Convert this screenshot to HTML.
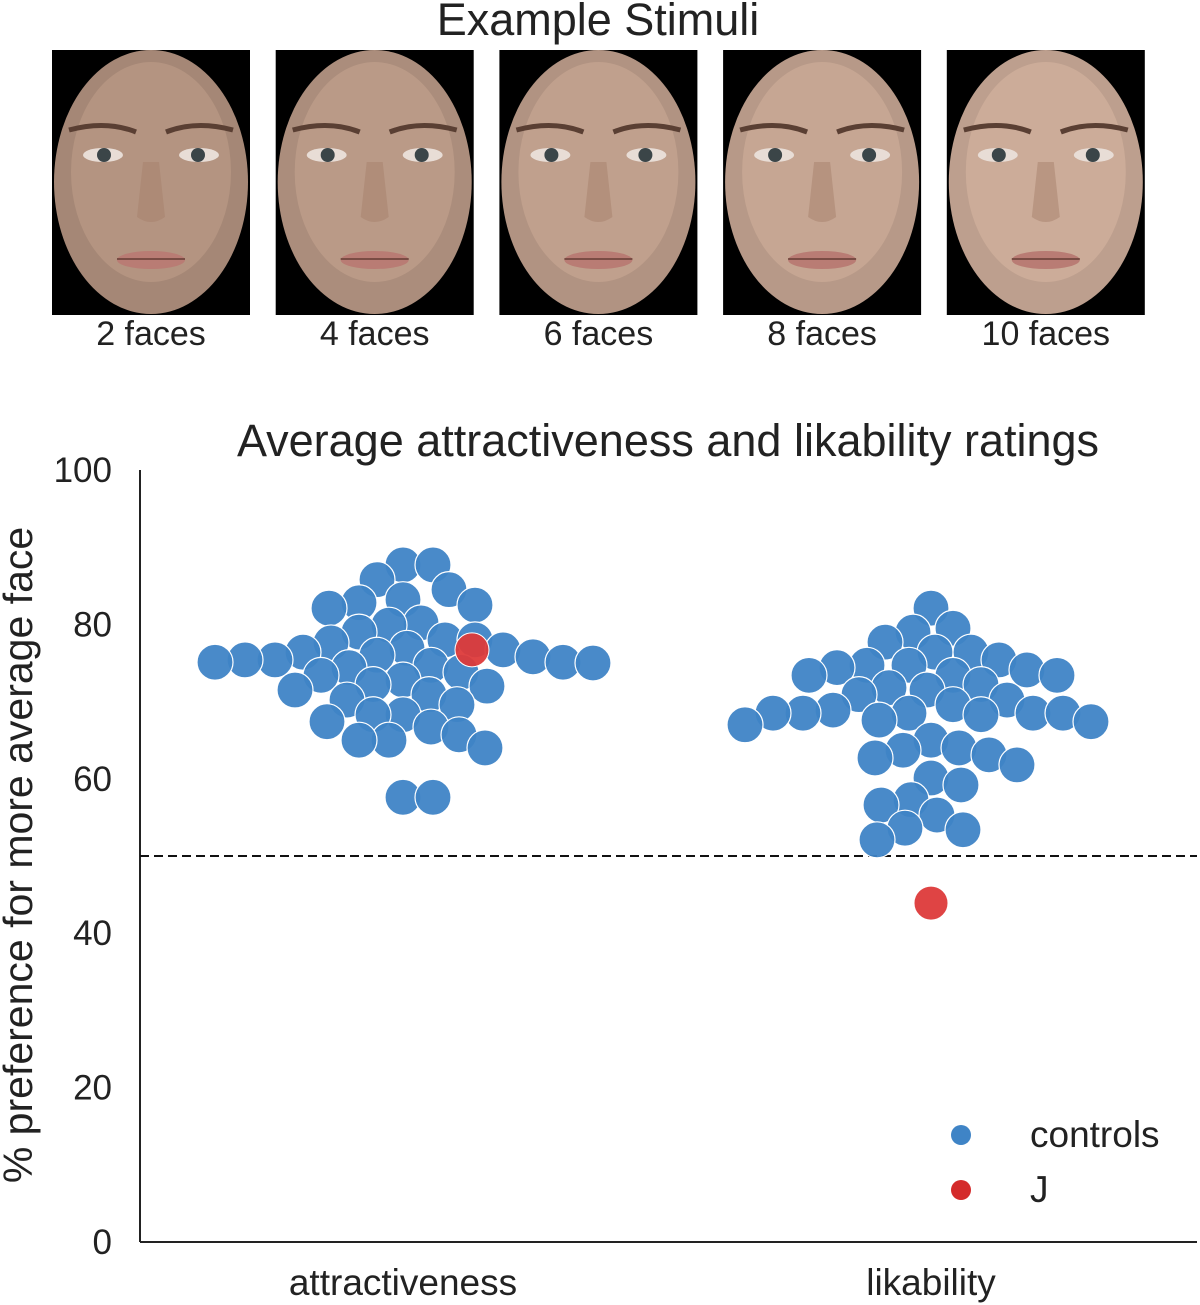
<!DOCTYPE html>
<html><head><meta charset="utf-8">
<style>
body{margin:0;background:#fff;width:1200px;height:1305px;overflow:hidden;font-family:"Liberation Sans",sans-serif;}
svg{display:block}
text{font-family:"Liberation Sans",sans-serif;fill:#222}
</style></head>
<body>
<svg id="fig" width="1200" height="1305" viewBox="0 0 1200 1305">
<text x="598" y="35" font-size="45" text-anchor="middle">Example Stimuli</text>
<g id="faces"></g>
<text x="668" y="456" font-size="45" text-anchor="middle">Average attractiveness and likability ratings</text>
<g id="chart"></g>
</svg>
<script>
const faceLabels=["2 faces","4 faces","6 faces","8 faces","10 faces"];
const attractiveness=[87.7,87.7,85.8,84.5,83.2,82.8,82.5,82.1,80.2,79.9,79.0,78.0,78.0,77.6,76.7,76.9,76.4,76.0,75.8,75.4,75.4,75.1,75.1,75.0,74.7,74.4,73.8,73.4,72.8,72.2,72.0,71.5,70.9,70.2,69.6,68.3,68.3,67.4,66.7,65.7,65.0,65.0,64.0,57.6,57.6];
const likability=[82.1,79.5,79.0,77.7,76.4,76.4,75.4,74.7,74.7,74.4,74.1,73.4,73.4,73.4,72.2,71.8,71.5,70.9,70.2,69.6,68.9,68.5,68.5,68.5,68.5,68.5,68.3,67.6,67.4,67.0,65.0,64.0,63.7,63.1,62.7,61.8,60.1,59.2,57.3,56.6,55.3,53.6,53.4,52.1];
const categories=["attractiveness","likability"];
const jValues=[76.7,43.9];
const yTicks=[0,20,40,60,80,100];
const chanceLevel=50;

const NS="http://www.w3.org/2000/svg";
function mk(tag,attrs,parent){const e=document.createElementNS(NS,tag);for(const k in attrs)e.setAttribute(k,attrs[k]);parent.appendChild(e);return e;}

const fg=document.getElementById('faces');
faceLabels.forEach((lab,i)=>{
  const x0=52+i*223.7, cx=x0+99, cy=182;
  const g=mk('g',{},fg);
  
  
  mk('rect',{x:x0,y:50,width:198,height:265,fill:'#000'},g);
  const light=i*6;
  mk('ellipse',{cx:cx,cy:cy,rx:97,ry:132,fill:`rgb(${165+light},${135+light},${118+light})`},g);
  mk('ellipse',{cx:cx,cy:cy-10,rx:80,ry:110,fill:`rgb(${195+light},${162+light},${140+light})`,opacity:0.5},g);
  [-1,1].forEach(s=>{
    mk('path',{d:`M${cx+s*15} ${cy-50} Q${cx+s*45} ${cy-62} ${cx+s*82} ${cy-52}`,stroke:'#5a3f33','stroke-width':5,fill:'none'},g);
    mk('ellipse',{cx:cx+s*48,cy:cy-27,rx:20,ry:7,fill:'#e8ddd6'},g);
    mk('circle',{cx:cx+s*47,cy:cy-27,r:7,fill:'#3b4548'},g);
  });
  mk('path',{d:`M${cx-8} ${cy-20} L${cx-14} ${cy+35} Q${cx} ${cy+45} ${cx+14} ${cy+35} L${cx+8} ${cy-20}`,fill:'#a57f6c',opacity:0.5},g);
  mk('ellipse',{cx:cx,cy:cy+78,rx:34,ry:9,fill:'#b97c74'},g);
  mk('line',{x1:cx-34,y1:cy+77,x2:cx+34,y2:cy+77,stroke:'#7a4c44','stroke-width':2},g);
  const t=mk('text',{x:cx,y:345,'font-size':34,'text-anchor':'middle'},g);
  t.textContent=lab;
  
  
});

const cg=document.getElementById('chart');
const X0=140,X1=1197,Y0=1242,Y100=470;
const yScale=v=>Y0-(v/100)*(Y0-Y100);
const catX=[403,931];
const xScale=i=>catX[i];

const yAxis=mk('line',{x1:X0,y1:Y100,x2:X0,y2:Y0,stroke:'#222','stroke-width':2},cg);


const xAxis=mk('line',{x1:X0,y1:Y0,x2:X1,y2:Y0,stroke:'#222','stroke-width':2},cg);


yTicks.forEach(v=>{
  const t=mk('text',{x:112,y:yScale(v)+12,'font-size':35,'text-anchor':'end'},cg);
  t.textContent=v;
  
  
});
const yl=mk('text',{transform:'translate(32,855) rotate(-90)','font-size':41,'text-anchor':'middle'},cg);
yl.textContent='% preference for more average face';


categories.forEach((c,i)=>{
  const t=mk('text',{x:xScale(i),y:1295,'font-size':37,'text-anchor':'middle'},cg);
  t.textContent=c;
  
  
});
const dl=mk('line',{x1:X0,y1:yScale(chanceLevel),x2:X1,y2:yScale(chanceLevel),stroke:'#111','stroke-width':2,'stroke-dasharray':'9,5'},cg);



function swarm(vals,cx){
  const D=29,placed=[];
  const order=vals.map((v,i)=>i).sort((a,b)=>vals[b]-vals[a]);
  const res=new Array(vals.length);
  order.forEach(i=>{
    const y=yScale(vals[i]);
    let best=cx;
    for(let k=0;k<400;k++){
      const off=(k%2?1:-1)*Math.ceil(k/2)*2;
      const x=cx+off;
      if(placed.every(p=>Math.hypot(p.x-x,p.y-y)>=D)){best=x;break;}
    }
    placed.push({x:best,y:y});res[i]={x:best,y:y};
  });
  return res;
}
[attractiveness,likability].forEach((vals,ci)=>{
  const pts=swarm(vals,xScale(ci));
  pts.forEach((p,j)=>{
    const c=mk('circle',{cx:p.x,cy:p.y,r:18,fill:'#3f84c6','fill-opacity':0.95,stroke:'#fff','stroke-width':1.2},cg);
    
    
  });
});
const jOff=[69,0];
jValues.forEach((v,i)=>{
  const c=mk('circle',{cx:xScale(i)+jOff[i],cy:yScale(v),r:17,fill:'#dd3a3a','fill-opacity':0.95,stroke:'#fff','stroke-width':1},cg);
  
  
});
const lg=mk('g',{},cg);


mk('circle',{cx:961,cy:1135,r:10,fill:'#3f84c6'},lg);
mk('circle',{cx:961,cy:1190,r:10,fill:'#d42a2a'},lg);
const l1=mk('text',{x:1030,y:1147,'font-size':37},lg);l1.textContent='controls';


const l2=mk('text',{x:1030,y:1202,'font-size':37},lg);l2.textContent='J';


</script>
</body></html>
